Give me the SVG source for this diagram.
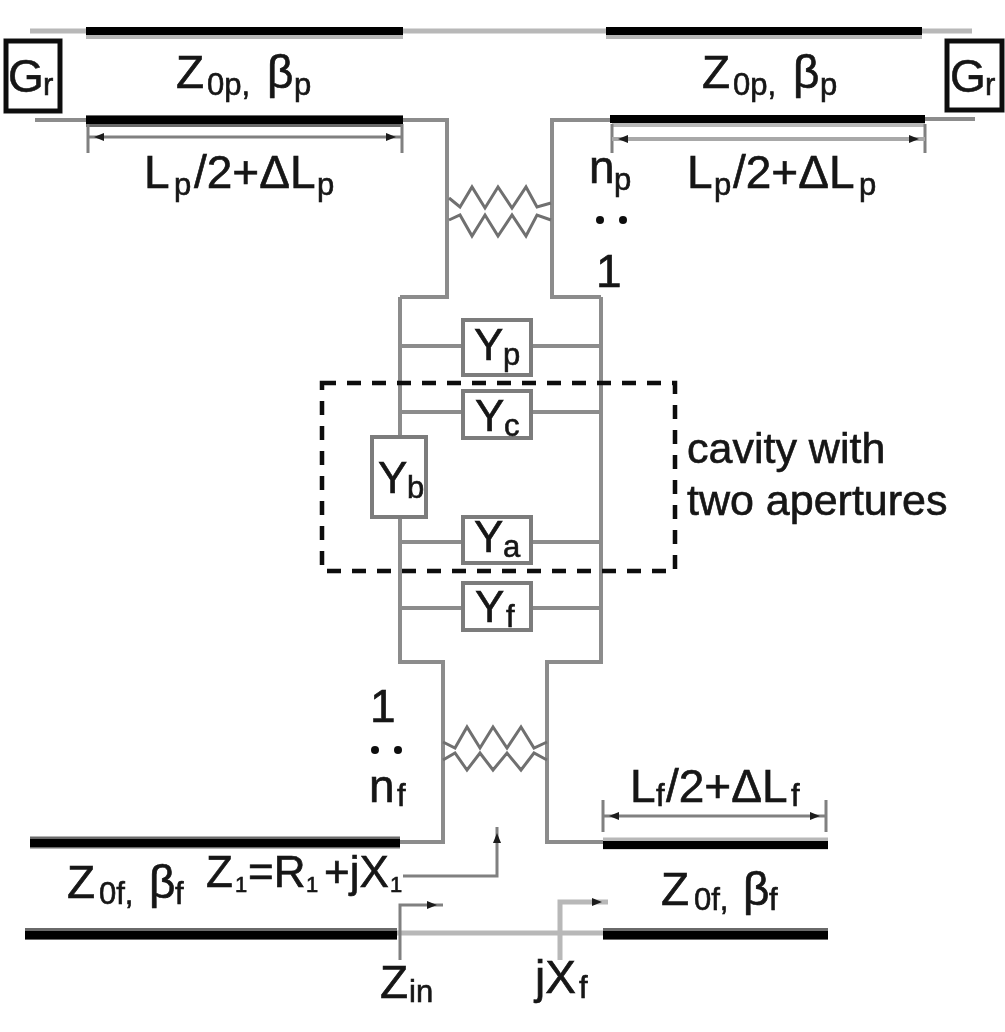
<svg xmlns="http://www.w3.org/2000/svg" width="1005" height="1032" viewBox="0 0 1005 1032">
<defs>
<filter id="soft" x="-2%" y="-2%" width="104%" height="104%"><feGaussianBlur stdDeviation="0.65"/></filter>
<marker id="head" markerWidth="24" markerHeight="10" refX="22" refY="5" orient="auto-start-reverse" markerUnits="userSpaceOnUse"><path d="M6 1L16 5L6 9Z" fill="#1c1c1c"/></marker>
</defs>
<style>
text{font-family:"Liberation Sans",Arial,sans-serif;fill:#141414;stroke:#141414;stroke-width:.6}
.m{font-size:46px}
.y{font-size:44px}
.l{font-size:46px}
.s{font-size:31px}
.t{font-size:43px}
.thick{stroke:#050505;stroke-width:8;fill:none}
.fringe{stroke:#6a6a6a;stroke-width:12;fill:none}
.fringe2{stroke:#b8b8b8;stroke-width:12;fill:none}
.thin{stroke:#8c8c8c;stroke-width:4;fill:none}
.pale{stroke:#b8b8b8;stroke-width:5;fill:none}
.dim{stroke:#808080;stroke-width:3;fill:none}
.dimp{stroke:#a8a8a8;stroke-width:4;fill:none}
.box{fill:#fff;stroke:#7c7c7c;stroke-width:4}
.gbox{fill:#fff;stroke:#111;stroke-width:5}
.dash{fill:none;stroke:#111;stroke-width:4.5;stroke-dasharray:14 11}
.coil{fill:none;stroke:#707070;stroke-width:3}
</style>
<g filter="url(#soft)">
<g id="connectors">
<path class="pale" d="M30 31H86M403 31H606M922 31H972"/>
<path class="thin" d="M35 120H86M403 120H447V297H400M925 119H975M610 120H552V297H601"/>
<path class="thin" d="M400 297V662H443V842H400M601 297V662H547V842H603"/>
<path class="thin" d="M400 346H462M531 346H601M400 412H462M531 412H601M400 542H462M531 542H601M400 608H462M531 608H601"/>
<path class="fringe2" d="M86 33H403M606 33H922M612 121H925"/>
<path class="fringe" d="M86 121H403"/>
<path class="fringe" d="M30 842.500H400M25 934H397M603 934H828" stroke-width="11"/>
<path class="fringe2" d="M603 843.500H828" stroke-width="11"/>
<path class="thick" d="M86 31H403M606 31H922M86 120H403M610 119H925M30 843H400M603 845H828M25 935H397M603 935H828"/>
<path class="pale" d="M397 933H603" stroke-width="4"/>
<path class="dim" d="M88 124V153M402 124V153M612 124V153M925 124V153M603 800V832M826 800V832"/>
<path class="dim" d="M88 137H402" marker-start="url(#head)" marker-end="url(#head)"/>
<path class="dimp" d="M612 139H925" marker-start="url(#head)" marker-end="url(#head)"/>
<path class="dim" d="M603 816H826" marker-start="url(#head)" marker-end="url(#head)"/>
<path class="dim" d="M403 876H497V827" marker-end="url(#head)"/>
<path class="dim" d="M400 960V905H443" marker-end="url(#head)"/>
<path class="pale" d="M560 960V902H608" marker-end="url(#head)" stroke-width="4"/>
<path class="coil" d="M449 198L460 207L472 187L485 208L498 187L512 208L526 187L537 207L551 203"/>
<path class="coil" d="M449 220L460 215L472 236L485 215L498 236L512 215L526 236L537 215L551 220"/>
<path class="coil" d="M443 742L455 748L467 727L480 748L493 727L507 748L521 727L534 748L547 742"/>
<path class="coil" d="M443 760L455 753L467 770L480 753L493 770L507 753L521 770L534 753L547 760"/>
</g>
<g id="gr-left"><rect class="gbox" x="6" y="41" width="54" height="70"/><text class="m" x="8" y="92">G</text><text class="s" x="43" y="95">r</text></g>
<g id="gr-right"><rect class="gbox" x="947" y="41" width="55" height="69"/><text class="m" x="950" y="92">G</text><text class="s" x="985" y="95">r</text></g>
<g id="line-left-label"><text class="m" x="176" y="88">Z</text><text class="s" x="207" y="95">0p,</text><text class="m" x="267" y="88">β</text><text class="s" x="294" y="95">p</text></g>
<g id="line-right-label"><text class="m" x="702" y="88">Z</text><text class="s" x="733" y="95">0p,</text><text class="m" x="793" y="88">β</text><text class="s" x="820" y="95">p</text></g>
<g id="len-left"><text class="l" x="144" y="188">L</text><text class="s" x="174" y="195">p</text><text class="l" x="194" y="188">/2+ΔL</text><text class="s" x="317" y="195">p</text></g>
<g id="len-right"><text class="l" x="687" y="188">L</text><text class="s" x="714" y="195">p</text><text class="l" x="733" y="188">/2+ΔL</text><text class="s" x="859" y="195">p</text></g>
<g id="ratio-p"><text class="m" x="589" y="183">n</text><text class="s" x="614" y="190">p</text><circle cx="600" cy="220" r="4" fill="#111"/><circle cx="623" cy="220" r="4" fill="#111"/><text class="m" x="596" y="287">1</text></g>
<g id="Yp"><rect class="box" x="463" y="320" width="68" height="55"/><text class="y" x="474" y="360">Y</text><text class="s" x="503" y="365">p</text></g>
<g id="Yc"><rect class="box" x="463" y="391" width="68" height="47"/><text class="y" x="475" y="431">Y</text><text class="s" x="504" y="436">c</text></g>
<g id="Yb"><rect class="box" x="372" y="437" width="54" height="80"/><text class="y" x="378" y="493">Y</text><text class="s" x="407" y="498">b</text></g>
<g id="Ya"><rect class="box" x="463" y="517" width="68" height="46"/><text class="y" x="474" y="552">Y</text><text class="s" x="503" y="557">a</text></g>
<g id="Yf"><rect class="box" x="463" y="583" width="68" height="47"/><text class="y" x="475" y="622">Y</text><text class="s" x="506" y="627">f</text></g>
<g id="cavity"><rect class="dash" x="322" y="383" width="353" height="188"/><text class="t" x="687" y="463">cavity with</text><text class="t" x="687" y="515">two apertures</text></g>
<g id="ratio-f"><text class="m" x="370" y="722">1</text><circle cx="375" cy="750" r="4" fill="#111"/><circle cx="398" cy="750" r="4" fill="#111"/><text class="m" x="369" y="802">n</text><text class="s" x="397" y="806">f</text></g>
<g id="len-f"><text class="l" x="630" y="802">L</text><text class="s" x="656" y="806">f</text><text class="l" x="666" y="802">/2+ΔL</text><text class="s" x="791" y="806">f</text></g>
<g id="line-f-left"><text class="m" x="67" y="898">Z</text><text class="s" x="99" y="904">0f,</text><text class="m" x="149" y="898">β</text><text class="s" x="175" y="904">f</text></g>
<g id="line-f-right"><text class="m" x="661" y="905">Z</text><text class="s" x="694" y="910">0f,</text><text class="m" x="743" y="905">β</text><text class="s" x="769" y="910">f</text></g>
<g id="z1"><text class="y" x="206" y="887">Z</text><text class="s" x="235" y="892" style="font-size:22px">1</text><text class="y" x="248" y="887">=R</text><text class="s" x="306" y="892" style="font-size:22px">1</text><text class="y" x="324" y="887">+jX</text><text class="s" x="390" y="892" style="font-size:22px">1</text></g>
<g id="zin"><text class="m" x="380" y="998">Z</text><text class="s" x="409" y="1002">in</text></g>
<g id="jxf"><text class="m" x="535" y="993">jX</text><text class="s" x="579" y="998">f</text></g>
</g>
</svg>
